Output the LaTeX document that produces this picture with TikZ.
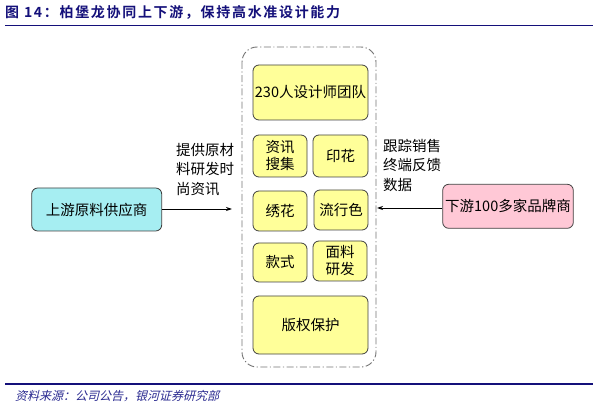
\documentclass[tikz,border=0pt]{standalone}
\usepackage{fontspec}
\setmainfont{Noto Sans CJK SC}
\newfontfamily\kaifont[FakeSlant=0.25]{Noto Sans CJK SC}
\newfontfamily\titlefont[LetterSpace=12]{Noto Sans CJK SC Bold}
\usetikzlibrary{arrows.meta}
\definecolor{boxyellow}{HTML}{FFFF99}
\definecolor{boxcyan}{HTML}{A6EEF2}
\definecolor{boxpink}{HTML}{FFC8D6}
\definecolor{navy}{HTML}{14107A}
\definecolor{srcblue}{HTML}{2A2A90}
\tikzset{
  cell/.style={draw=black!75, line width=0.8pt, rounded corners=6pt, inner sep=0pt, align=center,
    font=\fontsize{14.5}{17}\selectfont},
  ybox/.style={cell, fill=boxyellow},
  lbl/.style={inner sep=0pt, align=left, anchor=north west, font=\fontsize{14.5}{19.5}\selectfont},
  conn/.style={line width=0.9pt, -{Stealth[length=6pt,width=4pt]}},
}
\begin{document}
\begin{tikzpicture}[x=1pt,y=-1pt]
\useasboundingbox (0,0) rectangle (598,409);
% title
\node[anchor=west, inner sep=0pt, text=navy, font=\titlefont\fontsize{14}{16}\selectfont] (title) at (5,12.5) {图 14：柏堡龙协同上下游，保持高水准设计能力};
\draw[navy, line width=1pt] (5,25.3) -- (593,25.3);
\draw[navy, line width=2.2pt] (5,383.7) -- (593,383.7);
\node[anchor=west, inner sep=0pt, text=srcblue, font=\kaifont\fontsize{12}{14}\selectfont] (src) at (15,396) {资料来源：公司公告，银河证券研究部};
% container
\draw[black!55, line width=0.9pt, rounded corners=15pt, dash pattern=on 7pt off 2.5pt on 1.2pt off 2.5pt] (242,47) rectangle (376,367);
% inner boxes
\node[ybox, minimum width=115pt, minimum height=55pt] (team) at (310.5,92.5) {230人设计师团队};
\node[ybox, minimum width=54pt, minimum height=42pt] (zx) at (280,156) {资讯\\搜集};
\node[ybox, minimum width=55pt, minimum height=42pt] (yh) at (340.5,156) {印花};
\node[ybox, minimum width=54pt, minimum height=40pt] (xh) at (280,211) {绣花};
\node[ybox, minimum width=54pt, minimum height=40pt] (lxs) at (341,210) {流行色};
\node[ybox, minimum width=54pt, minimum height=39pt] (ks) at (280,262.5) {款式};
\node[ybox, minimum width=54pt, minimum height=40pt] (ml) at (340,261) {面料\\研发};
\node[ybox, minimum width=115pt, minimum height=58pt] (bq) at (310.5,325) {版权保护};
% side boxes
\node[cell, fill=boxcyan, minimum width=130pt, minimum height=43pt] (up) at (96.7,209.5) {上游原料供应商};
\node[cell, fill=boxpink, minimum width=130.6pt, minimum height=44pt] (down) at (508,206.3) {下游100多家品牌商};
% arrows
\coordinate (lt) at (232,209);
\coordinate (rt) at (377,208);
\draw[conn] (up.east |- lt) -- (lt);
\draw[conn] (down.west |- rt) -- (rt);
% labels
\node[lbl] (ll) at (176,143) {提供原材\\料研发时\\尚资讯};
\node[lbl] (rl) at (383,139) {跟踪销售\\终端反馈\\数据};
\end{tikzpicture}
\end{document}
